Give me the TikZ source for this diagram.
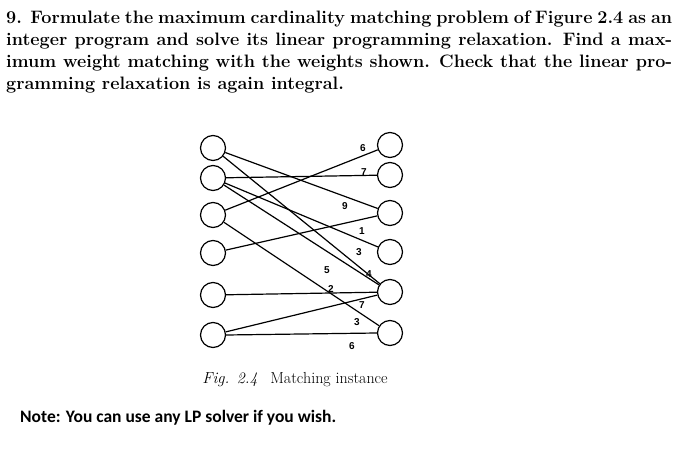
\documentclass[tikz,border=0pt]{standalone}
\usepackage{fontspec}
\newfontfamily\notefont{Carlito}
\newfontfamily\lblfont{Liberation Sans}
\begin{document}
\begin{tikzpicture}[x=1pt,y=-1pt,
  vtx/.style={circle,draw,line width=1.2pt,minimum size=25pt,inner sep=0pt},
  edge/.style={line width=1.2pt},
  wt/.style={font=\lblfont\bfseries\fontsize{10}{11}\selectfont,inner sep=0pt}]
\useasboundingbox (0,0) rectangle (678,470);
\node[anchor=north west,text width=666pt,align=justify,inner sep=0pt,font=\bfseries\fontsize{18}{22}\selectfont] (q) at (6,11)
{9. Formulate the maximum cardinality matching problem of Figure 2.4 as an\linebreak integer program and solve its linear programming relaxation. Find a max-\linebreak imum weight matching with the weights shown. Check that the linear pro-\linebreak gramming relaxation is again integral.};
\foreach \i/\y in {1/148,2/178,3/215,4/253,5/295,6/335} \node[vtx] (L\i) at (213,\y) {};
\foreach \i/\y in {1/145,2/175,3/213,4/252,5/292,6/333} \node[vtx] (R\i) at (390,\y) {};
\draw[edge] (L1) -- (R3); \draw[edge] (L1) -- (R5);
\draw[edge] (L2) -- (R2); \draw[edge] (L2) -- (R4); \draw[edge] (L2) -- (R5);
\draw[edge] (L3) -- (R1); \draw[edge] (L3) -- (R6);
\draw[edge] (L4) -- (R3); \draw[edge] (L5) -- (R5);
\draw[edge] (L6) -- (R5);
\draw[edge] (L6.east) -- (R6.west);
\node[wt] (w1) at (363,148) {6};
\node[wt] (w2) at (364,172) {7};
\node[wt] (w3) at (345,206) {9};
\node[wt] (w4) at (362,231) {1};
\node[wt] (w5) at (359,252) {3};
\node[wt] (w6) at (327,270) {5};
\node[wt] (w7) at (369,274) {4};
\node[wt] (w8) at (331,289) {2};
\node[wt] (w9) at (362,305) {7};
\node[wt] (w10) at (357,322) {3};
\node[wt] (w11) at (352,346) {6};
\node[font=\fontsize{16}{18}\selectfont] (cap) at (295,380) {\textit{Fig. 2.4}\hspace{0.8em}Matching instance};
\node[anchor=west,inner sep=0pt,font=\notefont\bfseries\fontsize{17.5}{20}\selectfont] (note) at (20,418) {Note: You can use any LP solver if you wish.};
\end{tikzpicture}
\end{document}
